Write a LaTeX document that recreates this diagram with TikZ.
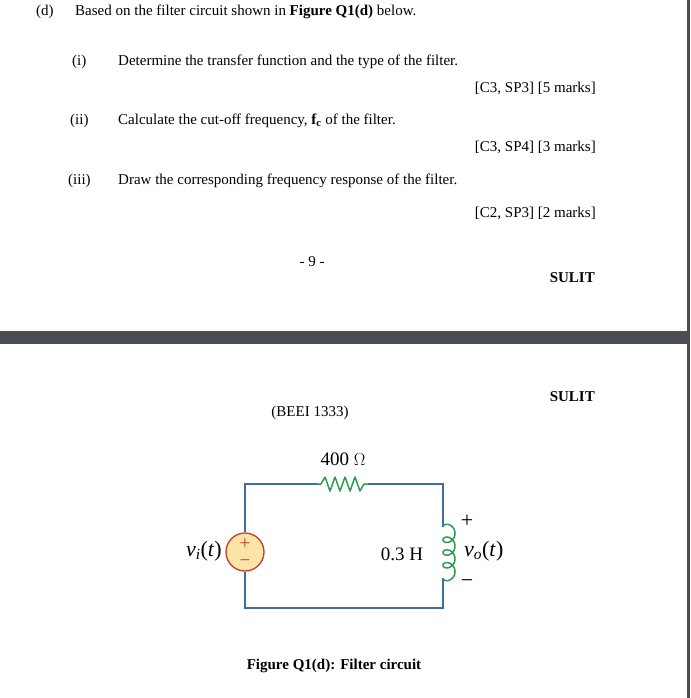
\documentclass[tikz,border=0pt]{standalone}
\usepackage{fontspec}
\setmainfont{Liberation Serif}
\definecolor{wire}{HTML}{3F6E9E}
\definecolor{comp}{HTML}{2E9A50}
\definecolor{srcfill}{HTML}{FCE3A6}
\definecolor{srcline}{HTML}{C23B30}
\definecolor{band}{HTML}{4A4E52}
\begin{document}
\begin{tikzpicture}[x=1pt,y=-1pt,
  txt/.style={font=\fontsize{15}{17}\selectfont,inner sep=0pt},
  ltxt/.style={txt,anchor=west},
  rtxt/.style={txt,anchor=east},
  ctxt/.style={inner sep=0pt,font=\fontsize{19}{21}\selectfont},
  wirel/.style={wire,line width=1.5pt},
  compl/.style={comp,line width=1.5pt}]
\useasboundingbox (0,0) rectangle (690,698);
\fill[white] (0,0) rectangle (690,698);
\fill[band] (0,331) rectangle (690,344);
\fill[band] (687,0) rectangle (690,698);
% page 1 text
\node[ltxt] (d) at (36,12) {(d)};
\node[ltxt] (dq) at (75,12) {Based on the filter circuit shown in \textbf{Figure Q1(d)} below.};
\node[ltxt] (i) at (72,62) {(i)};
\node[ltxt] (iq) at (118,62) {Determine the transfer function and the type of the filter.};
\node[rtxt] (im) at (596,88) {[C3, SP3] [5 marks]};
\node[ltxt] (ii) at (70,121) {(ii)};
\node[ltxt] (iiq) at (118,121) {Calculate the cut-off frequency, \textbf{f\textsubscript{c}} of the filter.};
\node[rtxt] (iim) at (596,147) {[C3, SP4] [3 marks]};
\node[ltxt] (iii) at (68,181) {(iii)};
\node[ltxt] (iiiq) at (118,181) {Draw the corresponding frequency response of the filter.};
\node[rtxt] (iiim) at (596,213) {[C2, SP3] [2 marks]};
\node[txt] (pg) at (312,262) {- 9 -};
\node[rtxt] (s1) at (595,278) {\textbf{SULIT}};
\node[rtxt] (s2) at (595,397) {\textbf{SULIT}};
\node[txt] (beei) at (310,413) {(BEEI 1333)};
% circuit
\coordinate (tl) at (245,484);
\coordinate (tr) at (443,484);
\coordinate (bl) at (245,608);
\coordinate (br) at (443,608);
\coordinate (ra) at (318,484);
\coordinate (rb) at (368,484);
\coordinate (la) at (443,527);
\coordinate (lb) at (443,578);
\node[circle,draw=srcline,fill=srcfill,line width=1.3pt,minimum size=38pt,inner sep=0pt] (src) at (245,552) {};
\draw[wirel] (src.north) -- (tl) -- (ra);
\draw[wirel] (rb) -- (tr) -- (la);
\draw[wirel] (lb) -- (br) -- (bl) -- (src.south);
\draw[compl,line join=round] (ra) -- ++(3,0) -- ++(4,-7) -- ++(5,14) -- ++(5,-14) -- ++(5,14) -- ++(5,-14) -- ++(5,14) -- ++(5,-14) -- ++(5,14) -- ++(4,-7) -- (rb);
\draw[compl,smooth,samples=160,variable=\t,domain=0:1440,shift={(la)}]
  plot ({6*(1-cos(\t))},{(\t/1440)*51-5.5*sin(\t)});
\node[srcline,font=\fontsize{19}{17}\selectfont,inner sep=0pt,align=center] (spm) at (245,553) {+\\\textminus};
\node[ctxt] (r) at (343,459) {400 $\Omega$};
\node[ctxt,anchor=east,font=\fontsize{22}{25}\selectfont] (vi) at (222,551) {\textit{v}\textsubscript{\textit{i}}(\textit{t})};
\node[ctxt] (l) at (402,554) {0.3 H};
\node[ctxt,font=\fontsize{22}{22}\selectfont] (vp) at (467,521) {+};
\node[ctxt,anchor=west,font=\fontsize{22}{25}\selectfont] (vo) at (464,551) {\textit{v}\textsubscript{\textit{o}}(\textit{t})};
\node[ctxt,font=\fontsize{22}{22}\selectfont] (vm) at (467,584) {\textminus};
\node[txt] (cap) at (334,666) {\textbf{Figure Q1(d): Filter circuit}};
\end{tikzpicture}
\end{document}
